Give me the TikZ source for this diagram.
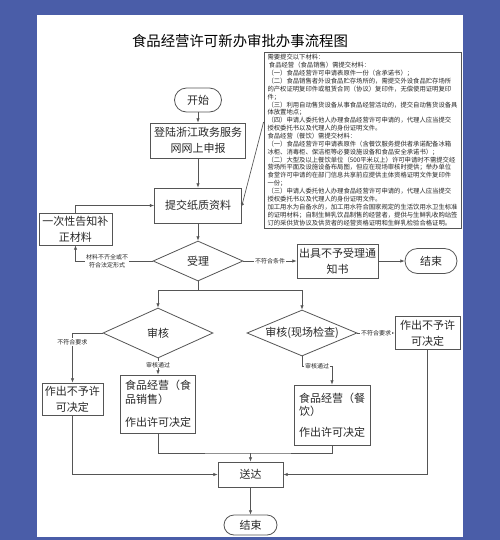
\documentclass[tikz,border=0pt]{standalone}
\usepackage{fontspec}
\setmainfont{Noto Sans CJK SC}
\usetikzlibrary{shapes.geometric,shapes.misc,arrows.meta,calc}
\definecolor{bgblue}{RGB}{74,93,168}
\definecolor{linegray}{RGB}{85,85,85}
\definecolor{txt}{RGB}{40,40,40}
\begin{document}
\begin{tikzpicture}[x=0.75pt,y=-0.75pt,
  box/.style={draw=linegray, line width=0.6pt, fill=white, inner sep=1pt, align=center,
    text=txt, font=\fontsize{8.25pt}{12pt}\selectfont},
  term/.style={box, rounded rectangle, inner sep=0pt},
  dia/.style={box, diamond, aspect=2.4, inner sep=0pt},
  lbl/.style={fill=white, inner sep=0.6pt, align=center, text=txt,
    font=\fontsize{4.5pt}{6pt}\selectfont},
  conn/.style={draw=linegray, line width=0.5pt},
  arr/.style={-{Latex[length=3.2pt,width=2.6pt]}}
]
\fill[bgblue] (0,0) rectangle (500,540);
\fill[white] (37,15) rectangle (463,537);
\useasboundingbox (0,0) rectangle (500,540);

\node[text=black, font=\fontsize{10.8pt}{13pt}\selectfont] (title) at (240,41) {食品经营许可新办审批办事流程图};

\node[box, align=left, inner sep=0pt, minimum width=147.75pt, minimum height=132pt,
  font=\fontsize{4.75pt}{5.9pt}\selectfont] (notes) at (362.5,140) {%
需要提交以下材料：\\
\ 食品经营（食品销售）需提交材料：\\
（一）食品经营许可申请表原件一份（含承诺书）；\\
（二）食品销售者外设食品贮存场所的，需提交外设食品贮存场所\\
的产权证明复印件或租赁合同（协议）复印件，无偿使用证明复印\\
件；\\
（三）利用自动售货设备从事食品经营活动的，提交自动售货设备具\\
体放置地点；\\
（四）申请人委托他人办理食品经营许可申请的，代理人应当提交\\
授权委托书以及代理人的身份证明文件。\\
食品经营（餐饮）需提交材料：\\
（一）食品经营许可申请表原件（含餐饮服务提供者承诺配备冰箱\\
冰柜、消毒柜、保洁柜等必要设施设备和食品安全承诺书）；\\
（二）大型及以上餐饮单位（500平米以上）许可申请时不需提交经\\
营场所平面及设施设备布局图，但应在现场审核时提供；举办单位\\
食堂许可申请的在部门信息共享前应提供主体资格证明文件复印件\\
一份；\\
（三）申请人委托他人办理食品经营许可申请的，代理人应当提交\\
授权委托书以及代理人的身份证明文件。\\
加工用水为自备水的，加工用水符合国家规定的生活饮用水卫生标准\\
的证明材料；自制生鲜乳饮品制售的经营者，提供与生鲜乳收购站签\\
订的采供货协议及供货者的经营资格证明和生鲜乳检验合格证明。};

\node[term, minimum width=35.25pt, minimum height=18pt] (start) at (198,100) {开始};
\node[box, minimum width=71.25pt, minimum height=26.25pt] (login) at (198,140.5) {登陆浙江政务服务\\网网上申报};
\node[box, minimum width=65.25pt, minimum height=26.25pt] (submit) at (198,205.5) {提交纸质资料};
\node[dia, minimum width=67.5pt, minimum height=30pt] (accept) at (198,261) {受理};
\node[box, minimum width=54.75pt, minimum height=24pt] (notify) at (75.5,229) {一次性告知补\\正材料};
\node[box, minimum width=60.75pt, minimum height=25.5pt] (reject1) at (337.5,261) {出具不予受理通\\知书};
\node[term, minimum width=39pt, minimum height=18.75pt] (end1) at (431,261) {结束};
\node[dia, minimum width=82.5pt, minimum height=37.5pt] (review1) at (158,333) {审核};
\node[dia, minimum width=82.5pt, minimum height=34.5pt] (review2) at (302,333) {审核(现场检查)};
\node[box, minimum width=45.75pt, minimum height=24pt] (denyL) at (72.5,399) {作出不予许\\可决定};
\node[box, minimum width=48.75pt, minimum height=24.75pt] (denyR) at (427.5,333) {作出不予许\\可决定};
\node[box, align=left, minimum width=56.25pt, minimum height=43.5pt,
  font=\fontsize{8.25pt}{10.5pt}\selectfont] (grantL) at (158,404) {食品经营（食\\品销售）\\[6.5pt]作出许可决定};
\node[box, align=left, minimum width=57pt, minimum height=45pt,
  font=\fontsize{8.25pt}{10pt}\selectfont] (grantR) at (332,415) {食品经营（餐\\饮）\\[5.5pt]作出许可决定};
\node[box, minimum width=48.75pt, minimum height=18.75pt] (deliver) at (250.5,474.5) {送达};
\node[term, minimum width=39.75pt, minimum height=15pt] (end2) at (250.5,525) {结束};

\coordinate (na) at (notes.west |- 0,122);
\draw[conn, {Circle[length=2.2pt]}-] (submit.east) -- (na);

\draw[conn,arr] (start.south) -- (login.north);
\draw[conn,arr] (login.south) -- (submit.north);
\draw[conn,arr] (submit.south) -- (accept.north);
\draw[conn,arr] (accept.west) -| node[lbl,pos=0.295]{材料不齐全或不\\符合法定形式} (notify.south);
\draw[conn,arr] (notify.north) |- (submit.west);
\draw[conn,arr] (accept.east) -- node[lbl]{不符合条件} (reject1.west);
\draw[conn,arr] (reject1.east) -- (end1.west);

\coordinate (split) at (accept.south |- 0,290);
\draw[conn] (accept.south) -- (split);
\draw[conn,arr] (split) -| (review1.north);
\draw[conn,arr] (split) -| (review2.north);

\draw[conn,arr] (review1.west) -| node[lbl,pos=0.59]{不符合要求} (denyL.north);
\draw[conn,arr] (review1.south) -- node[lbl,pos=0.4]{审核通过} (grantL.north);
\draw[conn,arr] (review2.east) -- node[lbl]{不符合要求} (denyR.west);
\coordinate (c2) at (grantR.north |- 0,366);
\draw[conn,arr] (review2.south) |- node[lbl,pos=0.75]{审核通过} (c2) -- (grantR.north);

\draw[conn,arr] (denyL.south) |- (deliver.west);
\coordinate (join) at (deliver.north |- 0,453);
\draw[conn] (grantL.south) |- (join) -| (grantR.south);
\draw[conn,arr] (join) -- (deliver.north);
\draw[conn,arr] (denyR.south) |- (deliver.east);
\draw[conn,arr] (deliver.south) -- (end2.north);
\end{tikzpicture}
\end{document}
